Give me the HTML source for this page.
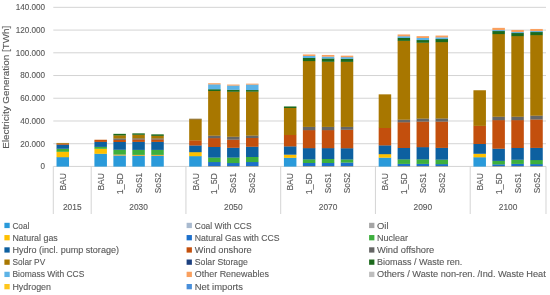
<!DOCTYPE html>
<html lang="en"><head><meta charset="utf-8"><title>Electricity Generation</title>
<style>html,body{margin:0;padding:0;background:#fff}body{width:550px;height:295px;overflow:hidden}svg{display:block}text{font-family:"Liberation Sans",sans-serif;fill:#595959;stroke:#595959;stroke-width:0.12px}</style></head><body>
<svg width="550" height="295" viewBox="0 0 550 295">
<defs><filter id="soft" x="0" y="0" width="550" height="295" filterUnits="userSpaceOnUse"><feGaussianBlur stdDeviation="0.35"/></filter></defs>
<rect width="550" height="295" fill="#fff"/>
<g filter="url(#soft)">
<line x1="53.30" y1="166.45" x2="546.00" y2="166.45" stroke="#D2D2D2" stroke-width="0.95"/>
<text x="45.1" y="169.25" font-size="8.7" text-anchor="end" textLength="4.5" lengthAdjust="spacingAndGlyphs">0</text>
<line x1="53.30" y1="143.72" x2="546.00" y2="143.72" stroke="#D2D2D2" stroke-width="0.95"/>
<text x="45.1" y="146.52" font-size="8.7" text-anchor="end" textLength="24.9" lengthAdjust="spacingAndGlyphs">20.000</text>
<line x1="53.30" y1="120.99" x2="546.00" y2="120.99" stroke="#D2D2D2" stroke-width="0.95"/>
<text x="45.1" y="123.79" font-size="8.7" text-anchor="end" textLength="24.9" lengthAdjust="spacingAndGlyphs">40.000</text>
<line x1="53.30" y1="98.26" x2="546.00" y2="98.26" stroke="#D2D2D2" stroke-width="0.95"/>
<text x="45.1" y="101.06" font-size="8.7" text-anchor="end" textLength="24.9" lengthAdjust="spacingAndGlyphs">60.000</text>
<line x1="53.30" y1="75.53" x2="546.00" y2="75.53" stroke="#D2D2D2" stroke-width="0.95"/>
<text x="45.1" y="78.33" font-size="8.7" text-anchor="end" textLength="24.9" lengthAdjust="spacingAndGlyphs">80.000</text>
<line x1="53.30" y1="52.80" x2="546.00" y2="52.80" stroke="#D2D2D2" stroke-width="0.95"/>
<text x="45.1" y="55.60" font-size="8.7" text-anchor="end" textLength="29.4" lengthAdjust="spacingAndGlyphs">100.000</text>
<line x1="53.30" y1="30.07" x2="546.00" y2="30.07" stroke="#D2D2D2" stroke-width="0.95"/>
<text x="45.1" y="32.87" font-size="8.7" text-anchor="end" textLength="29.4" lengthAdjust="spacingAndGlyphs">120.000</text>
<line x1="53.30" y1="7.34" x2="546.00" y2="7.34" stroke="#D2D2D2" stroke-width="0.95"/>
<text x="45.1" y="10.14" font-size="8.7" text-anchor="end" textLength="29.4" lengthAdjust="spacingAndGlyphs">140.000</text>
<text transform="translate(9.0,87.2) rotate(-90)" font-size="9.3" text-anchor="middle" textLength="123" lengthAdjust="spacingAndGlyphs">Electricity Generation [TWh]</text>
<rect x="56.52" y="157.05" width="12.50" height="9.55" fill="#2A9ADA"/>
<rect x="56.52" y="151.65" width="12.50" height="5.55" fill="#FFC000"/>
<rect x="56.52" y="148.65" width="12.50" height="3.15" fill="#3DAF3D"/>
<rect x="56.52" y="144.55" width="12.50" height="4.25" fill="#1160A0"/>
<rect x="56.52" y="143.55" width="12.50" height="1.15" fill="#C34F0A"/>
<rect x="56.52" y="142.95" width="12.50" height="0.75" fill="#A87700"/>
<rect x="94.42" y="153.65" width="12.50" height="12.95" fill="#2A9ADA"/>
<rect x="94.42" y="148.65" width="12.50" height="5.15" fill="#FFC000"/>
<rect x="94.42" y="146.75" width="12.50" height="2.05" fill="#3DAF3D"/>
<rect x="94.42" y="141.75" width="12.50" height="5.15" fill="#1160A0"/>
<rect x="94.42" y="139.75" width="12.50" height="2.15" fill="#C34F0A"/>
<rect x="113.38" y="155.45" width="12.50" height="11.15" fill="#2A9ADA"/>
<rect x="113.38" y="154.45" width="12.50" height="1.15" fill="#E8A838"/>
<rect x="113.38" y="149.65" width="12.50" height="4.95" fill="#3DAF3D"/>
<rect x="113.38" y="141.85" width="12.50" height="7.95" fill="#1160A0"/>
<rect x="113.38" y="139.75" width="12.50" height="2.25" fill="#C34F0A"/>
<rect x="113.38" y="138.35" width="12.50" height="1.55" fill="#666666"/>
<rect x="113.38" y="135.25" width="12.50" height="3.25" fill="#A87700"/>
<rect x="113.38" y="133.85" width="12.50" height="1.55" fill="#1E6B1E"/>
<rect x="132.32" y="155.75" width="12.50" height="10.85" fill="#2A9ADA"/>
<rect x="132.32" y="154.75" width="12.50" height="1.15" fill="#E8A838"/>
<rect x="132.32" y="149.75" width="12.50" height="5.15" fill="#3DAF3D"/>
<rect x="132.32" y="141.75" width="12.50" height="8.15" fill="#1160A0"/>
<rect x="132.32" y="139.35" width="12.50" height="2.55" fill="#C34F0A"/>
<rect x="132.32" y="138.25" width="12.50" height="1.25" fill="#666666"/>
<rect x="132.32" y="134.65" width="12.50" height="3.75" fill="#A87700"/>
<rect x="132.32" y="133.35" width="12.50" height="1.45" fill="#1E6B1E"/>
<rect x="151.27" y="155.75" width="12.50" height="10.85" fill="#2A9ADA"/>
<rect x="151.27" y="154.75" width="12.50" height="1.15" fill="#E8A838"/>
<rect x="151.27" y="149.75" width="12.50" height="5.15" fill="#3DAF3D"/>
<rect x="151.27" y="141.75" width="12.50" height="8.15" fill="#1160A0"/>
<rect x="151.27" y="139.35" width="12.50" height="2.55" fill="#C34F0A"/>
<rect x="151.27" y="138.35" width="12.50" height="1.15" fill="#666666"/>
<rect x="151.27" y="135.75" width="12.50" height="2.75" fill="#A87700"/>
<rect x="151.27" y="134.35" width="12.50" height="1.55" fill="#1E6B1E"/>
<rect x="189.18" y="156.05" width="12.50" height="10.55" fill="#2A9ADA"/>
<rect x="189.18" y="152.05" width="12.50" height="4.15" fill="#FFC000"/>
<rect x="189.18" y="145.35" width="12.50" height="6.85" fill="#1160A0"/>
<rect x="189.18" y="140.25" width="12.50" height="5.25" fill="#C34F0A"/>
<rect x="189.18" y="119.25" width="12.50" height="21.15" fill="#A87700"/>
<rect x="189.18" y="118.75" width="12.50" height="0.65" fill="#6B4E12"/>
<rect x="208.12" y="166.15" width="12.50" height="0.45" fill="#E8A838"/>
<rect x="208.12" y="161.95" width="12.50" height="4.35" fill="#1F6FCB"/>
<rect x="208.12" y="157.45" width="12.50" height="4.65" fill="#3DAF3D"/>
<rect x="208.12" y="146.85" width="12.50" height="10.75" fill="#1160A0"/>
<rect x="208.12" y="138.05" width="12.50" height="8.95" fill="#C34F0A"/>
<rect x="208.12" y="135.55" width="12.50" height="2.65" fill="#666666"/>
<rect x="208.12" y="90.85" width="12.50" height="44.85" fill="#A87700"/>
<rect x="208.12" y="89.15" width="12.50" height="1.85" fill="#1E6B1E"/>
<rect x="208.12" y="84.25" width="12.50" height="5.05" fill="#5DB3E6"/>
<rect x="208.12" y="83.25" width="12.50" height="1.15" fill="#F9A05E"/>
<rect x="227.07" y="166.15" width="12.50" height="0.45" fill="#E8A838"/>
<rect x="227.07" y="162.95" width="12.50" height="3.35" fill="#1F6FCB"/>
<rect x="227.07" y="157.45" width="12.50" height="5.65" fill="#3DAF3D"/>
<rect x="227.07" y="147.65" width="12.50" height="9.95" fill="#1160A0"/>
<rect x="227.07" y="139.55" width="12.50" height="8.25" fill="#C34F0A"/>
<rect x="227.07" y="136.65" width="12.50" height="3.05" fill="#666666"/>
<rect x="227.07" y="91.65" width="12.50" height="45.15" fill="#A87700"/>
<rect x="227.07" y="89.65" width="12.50" height="2.15" fill="#1E6B1E"/>
<rect x="227.07" y="85.45" width="12.50" height="4.35" fill="#5DB3E6"/>
<rect x="227.07" y="84.55" width="12.50" height="1.05" fill="#F9A05E"/>
<rect x="246.02" y="166.15" width="12.50" height="0.45" fill="#E8A838"/>
<rect x="246.02" y="161.95" width="12.50" height="4.35" fill="#1F6FCB"/>
<rect x="246.02" y="156.85" width="12.50" height="5.25" fill="#3DAF3D"/>
<rect x="246.02" y="146.65" width="12.50" height="10.35" fill="#1160A0"/>
<rect x="246.02" y="137.85" width="12.50" height="8.95" fill="#C34F0A"/>
<rect x="246.02" y="135.45" width="12.50" height="2.55" fill="#666666"/>
<rect x="246.02" y="91.55" width="12.50" height="44.05" fill="#A87700"/>
<rect x="246.02" y="89.95" width="12.50" height="1.75" fill="#1E6B1E"/>
<rect x="246.02" y="84.45" width="12.50" height="5.65" fill="#5DB3E6"/>
<rect x="246.02" y="83.65" width="12.50" height="0.95" fill="#F9A05E"/>
<rect x="283.93" y="157.65" width="12.50" height="8.95" fill="#2A9ADA"/>
<rect x="283.93" y="154.55" width="12.50" height="3.25" fill="#FFC000"/>
<rect x="283.93" y="146.25" width="12.50" height="8.45" fill="#1160A0"/>
<rect x="283.93" y="134.85" width="12.50" height="11.55" fill="#C34F0A"/>
<rect x="283.93" y="107.85" width="12.50" height="27.15" fill="#A87700"/>
<rect x="283.93" y="106.45" width="12.50" height="1.55" fill="#1E6B1E"/>
<rect x="302.88" y="166.15" width="12.50" height="0.45" fill="#E8A838"/>
<rect x="302.88" y="162.85" width="12.50" height="3.45" fill="#1F6FCB"/>
<rect x="302.88" y="159.25" width="12.50" height="3.75" fill="#3DAF3D"/>
<rect x="302.88" y="148.05" width="12.50" height="11.35" fill="#1160A0"/>
<rect x="302.88" y="130.05" width="12.50" height="18.15" fill="#C34F0A"/>
<rect x="302.88" y="126.75" width="12.50" height="3.45" fill="#666666"/>
<rect x="302.88" y="60.95" width="12.50" height="65.95" fill="#A87700"/>
<rect x="302.88" y="57.85" width="12.50" height="3.25" fill="#1E6B1E"/>
<rect x="302.88" y="55.85" width="12.50" height="2.15" fill="#5DB3E6"/>
<rect x="302.88" y="54.45" width="12.50" height="1.55" fill="#F9A05E"/>
<rect x="321.82" y="166.15" width="12.50" height="0.45" fill="#E8A838"/>
<rect x="321.82" y="162.85" width="12.50" height="3.45" fill="#1F6FCB"/>
<rect x="321.82" y="158.85" width="12.50" height="4.15" fill="#3DAF3D"/>
<rect x="321.82" y="148.05" width="12.50" height="10.95" fill="#1160A0"/>
<rect x="321.82" y="130.05" width="12.50" height="18.15" fill="#C34F0A"/>
<rect x="321.82" y="126.75" width="12.50" height="3.45" fill="#666666"/>
<rect x="321.82" y="61.65" width="12.50" height="65.25" fill="#A87700"/>
<rect x="321.82" y="58.35" width="12.50" height="3.45" fill="#1E6B1E"/>
<rect x="321.82" y="56.55" width="12.50" height="1.95" fill="#5DB3E6"/>
<rect x="321.82" y="54.95" width="12.50" height="1.75" fill="#F9A05E"/>
<rect x="340.77" y="166.15" width="12.50" height="0.45" fill="#E8A838"/>
<rect x="340.77" y="162.45" width="12.50" height="3.85" fill="#1F6FCB"/>
<rect x="340.77" y="159.35" width="12.50" height="3.25" fill="#3DAF3D"/>
<rect x="340.77" y="148.15" width="12.50" height="11.35" fill="#1160A0"/>
<rect x="340.77" y="129.65" width="12.50" height="18.65" fill="#C34F0A"/>
<rect x="340.77" y="126.75" width="12.50" height="3.05" fill="#666666"/>
<rect x="340.77" y="61.75" width="12.50" height="65.15" fill="#A87700"/>
<rect x="340.77" y="58.75" width="12.50" height="3.15" fill="#1E6B1E"/>
<rect x="340.77" y="57.05" width="12.50" height="1.85" fill="#5DB3E6"/>
<rect x="340.77" y="55.65" width="12.50" height="1.55" fill="#F9A05E"/>
<rect x="378.68" y="157.55" width="12.50" height="9.05" fill="#2A9ADA"/>
<rect x="378.68" y="154.05" width="12.50" height="3.65" fill="#FFC000"/>
<rect x="378.68" y="145.25" width="12.50" height="8.95" fill="#1160A0"/>
<rect x="378.68" y="127.85" width="12.50" height="17.55" fill="#C34F0A"/>
<rect x="378.68" y="94.35" width="12.50" height="33.65" fill="#A87700"/>
<rect x="397.62" y="166.15" width="12.50" height="0.45" fill="#E8A838"/>
<rect x="397.62" y="163.75" width="12.50" height="2.55" fill="#1F6FCB"/>
<rect x="397.62" y="159.25" width="12.50" height="4.65" fill="#3DAF3D"/>
<rect x="397.62" y="147.85" width="12.50" height="11.55" fill="#1160A0"/>
<rect x="397.62" y="122.15" width="12.50" height="25.85" fill="#C34F0A"/>
<rect x="397.62" y="119.55" width="12.50" height="2.75" fill="#666666"/>
<rect x="397.62" y="40.75" width="12.50" height="78.95" fill="#A87700"/>
<rect x="397.62" y="37.85" width="12.50" height="3.05" fill="#1E6B1E"/>
<rect x="397.62" y="36.15" width="12.50" height="1.85" fill="#5DB3E6"/>
<rect x="397.62" y="34.45" width="12.50" height="1.85" fill="#F9A05E"/>
<rect x="416.57" y="166.15" width="12.50" height="0.45" fill="#E8A838"/>
<rect x="416.57" y="163.75" width="12.50" height="2.55" fill="#1F6FCB"/>
<rect x="416.57" y="159.25" width="12.50" height="4.65" fill="#3DAF3D"/>
<rect x="416.57" y="147.05" width="12.50" height="12.35" fill="#1160A0"/>
<rect x="416.57" y="121.45" width="12.50" height="25.75" fill="#C34F0A"/>
<rect x="416.57" y="118.45" width="12.50" height="3.15" fill="#666666"/>
<rect x="416.57" y="42.65" width="12.50" height="75.95" fill="#A87700"/>
<rect x="416.57" y="39.95" width="12.50" height="2.85" fill="#1E6B1E"/>
<rect x="416.57" y="37.85" width="12.50" height="2.25" fill="#5DB3E6"/>
<rect x="416.57" y="36.15" width="12.50" height="1.85" fill="#F9A05E"/>
<rect x="435.52" y="166.15" width="12.50" height="0.45" fill="#E8A838"/>
<rect x="435.52" y="164.05" width="12.50" height="2.25" fill="#1F6FCB"/>
<rect x="435.52" y="159.55" width="12.50" height="4.65" fill="#3DAF3D"/>
<rect x="435.52" y="147.75" width="12.50" height="11.95" fill="#1160A0"/>
<rect x="435.52" y="121.45" width="12.50" height="26.45" fill="#C34F0A"/>
<rect x="435.52" y="118.35" width="12.50" height="3.25" fill="#666666"/>
<rect x="435.52" y="42.05" width="12.50" height="76.45" fill="#A87700"/>
<rect x="435.52" y="38.95" width="12.50" height="3.25" fill="#1E6B1E"/>
<rect x="435.52" y="37.25" width="12.50" height="1.85" fill="#5DB3E6"/>
<rect x="435.52" y="35.55" width="12.50" height="1.85" fill="#F9A05E"/>
<rect x="473.43" y="157.15" width="12.50" height="9.45" fill="#2A9ADA"/>
<rect x="473.43" y="153.65" width="12.50" height="3.65" fill="#FFC000"/>
<rect x="473.43" y="143.85" width="12.50" height="9.95" fill="#1160A0"/>
<rect x="473.43" y="125.75" width="12.50" height="18.25" fill="#C34F0A"/>
<rect x="473.43" y="90.25" width="12.50" height="35.65" fill="#A87700"/>
<rect x="492.38" y="166.15" width="12.50" height="0.45" fill="#E8A838"/>
<rect x="492.38" y="164.25" width="12.50" height="2.05" fill="#1F6FCB"/>
<rect x="492.38" y="160.75" width="12.50" height="3.65" fill="#3DAF3D"/>
<rect x="492.38" y="148.55" width="12.50" height="12.35" fill="#1160A0"/>
<rect x="492.38" y="120.05" width="12.50" height="28.65" fill="#C34F0A"/>
<rect x="492.38" y="116.65" width="12.50" height="3.55" fill="#666666"/>
<rect x="492.38" y="33.95" width="12.50" height="82.85" fill="#A87700"/>
<rect x="492.38" y="30.95" width="12.50" height="3.15" fill="#1E6B1E"/>
<rect x="492.38" y="29.95" width="12.50" height="1.15" fill="#5DB3E6"/>
<rect x="492.38" y="27.85" width="12.50" height="2.25" fill="#F9A05E"/>
<rect x="511.32" y="166.15" width="12.50" height="0.45" fill="#E8A838"/>
<rect x="511.32" y="163.75" width="12.50" height="2.55" fill="#1F6FCB"/>
<rect x="511.32" y="159.65" width="12.50" height="4.25" fill="#3DAF3D"/>
<rect x="511.32" y="147.85" width="12.50" height="11.95" fill="#1160A0"/>
<rect x="511.32" y="120.05" width="12.50" height="27.95" fill="#C34F0A"/>
<rect x="511.32" y="116.65" width="12.50" height="3.55" fill="#666666"/>
<rect x="511.32" y="36.05" width="12.50" height="80.75" fill="#A87700"/>
<rect x="511.32" y="32.95" width="12.50" height="3.25" fill="#1E6B1E"/>
<rect x="511.32" y="31.95" width="12.50" height="1.15" fill="#5DB3E6"/>
<rect x="511.32" y="29.95" width="12.50" height="2.15" fill="#F9A05E"/>
<rect x="530.27" y="166.15" width="12.50" height="0.45" fill="#E8A838"/>
<rect x="530.27" y="164.05" width="12.50" height="2.25" fill="#1F6FCB"/>
<rect x="530.27" y="159.95" width="12.50" height="4.25" fill="#3DAF3D"/>
<rect x="530.27" y="147.75" width="12.50" height="12.35" fill="#1160A0"/>
<rect x="530.27" y="119.35" width="12.50" height="28.55" fill="#C34F0A"/>
<rect x="530.27" y="115.55" width="12.50" height="3.95" fill="#666666"/>
<rect x="530.27" y="35.05" width="12.50" height="80.65" fill="#A87700"/>
<rect x="530.27" y="31.95" width="12.50" height="3.25" fill="#1E6B1E"/>
<rect x="530.27" y="30.95" width="12.50" height="1.15" fill="#5DB3E6"/>
<rect x="530.27" y="28.95" width="12.50" height="2.15" fill="#F9A05E"/>
<line x1="53.30" y1="166.45" x2="53.30" y2="214" stroke="#D2D2D2" stroke-width="0.95"/>
<text x="72.25" y="210.4" font-size="8.4" text-anchor="middle" textLength="18.6" lengthAdjust="spacingAndGlyphs">2015</text>
<line x1="91.20" y1="166.45" x2="91.20" y2="214" stroke="#D2D2D2" stroke-width="0.95"/>
<text x="138.57" y="210.4" font-size="8.4" text-anchor="middle" textLength="18.6" lengthAdjust="spacingAndGlyphs">2030</text>
<line x1="185.95" y1="166.45" x2="185.95" y2="214" stroke="#D2D2D2" stroke-width="0.95"/>
<text x="233.32" y="210.4" font-size="8.4" text-anchor="middle" textLength="18.6" lengthAdjust="spacingAndGlyphs">2050</text>
<line x1="280.70" y1="166.45" x2="280.70" y2="214" stroke="#D2D2D2" stroke-width="0.95"/>
<text x="328.07" y="210.4" font-size="8.4" text-anchor="middle" textLength="18.6" lengthAdjust="spacingAndGlyphs">2070</text>
<line x1="375.45" y1="166.45" x2="375.45" y2="214" stroke="#D2D2D2" stroke-width="0.95"/>
<text x="422.82" y="210.4" font-size="8.4" text-anchor="middle" textLength="18.6" lengthAdjust="spacingAndGlyphs">2090</text>
<line x1="470.20" y1="166.45" x2="470.20" y2="214" stroke="#D2D2D2" stroke-width="0.95"/>
<text x="508.10" y="210.4" font-size="8.4" text-anchor="middle" textLength="18.6" lengthAdjust="spacingAndGlyphs">2100</text>
<line x1="546.00" y1="166.45" x2="546.00" y2="214" stroke="#D2D2D2" stroke-width="0.95"/>
<text transform="translate(65.88,173.0) rotate(-90)" font-size="8.6" text-anchor="end" textLength="17.6" lengthAdjust="spacingAndGlyphs">BAU</text>
<text transform="translate(103.77,173.0) rotate(-90)" font-size="8.6" text-anchor="end" textLength="17.6" lengthAdjust="spacingAndGlyphs">BAU</text>
<text transform="translate(122.72,173.0) rotate(-90)" font-size="8.6" text-anchor="end" textLength="21.2" lengthAdjust="spacingAndGlyphs">1_5D</text>
<text transform="translate(141.67,173.0) rotate(-90)" font-size="8.6" text-anchor="end" textLength="20.2" lengthAdjust="spacingAndGlyphs">SoS1</text>
<text transform="translate(160.62,173.0) rotate(-90)" font-size="8.6" text-anchor="end" textLength="20.2" lengthAdjust="spacingAndGlyphs">SoS2</text>
<text transform="translate(198.53,173.0) rotate(-90)" font-size="8.6" text-anchor="end" textLength="17.6" lengthAdjust="spacingAndGlyphs">BAU</text>
<text transform="translate(217.47,173.0) rotate(-90)" font-size="8.6" text-anchor="end" textLength="21.2" lengthAdjust="spacingAndGlyphs">1_5D</text>
<text transform="translate(236.42,173.0) rotate(-90)" font-size="8.6" text-anchor="end" textLength="20.2" lengthAdjust="spacingAndGlyphs">SoS1</text>
<text transform="translate(255.37,173.0) rotate(-90)" font-size="8.6" text-anchor="end" textLength="20.2" lengthAdjust="spacingAndGlyphs">SoS2</text>
<text transform="translate(293.28,173.0) rotate(-90)" font-size="8.6" text-anchor="end" textLength="17.6" lengthAdjust="spacingAndGlyphs">BAU</text>
<text transform="translate(312.23,173.0) rotate(-90)" font-size="8.6" text-anchor="end" textLength="21.2" lengthAdjust="spacingAndGlyphs">1_5D</text>
<text transform="translate(331.18,173.0) rotate(-90)" font-size="8.6" text-anchor="end" textLength="20.2" lengthAdjust="spacingAndGlyphs">SoS1</text>
<text transform="translate(350.12,173.0) rotate(-90)" font-size="8.6" text-anchor="end" textLength="20.2" lengthAdjust="spacingAndGlyphs">SoS2</text>
<text transform="translate(388.03,173.0) rotate(-90)" font-size="8.6" text-anchor="end" textLength="17.6" lengthAdjust="spacingAndGlyphs">BAU</text>
<text transform="translate(406.98,173.0) rotate(-90)" font-size="8.6" text-anchor="end" textLength="21.2" lengthAdjust="spacingAndGlyphs">1_5D</text>
<text transform="translate(425.93,173.0) rotate(-90)" font-size="8.6" text-anchor="end" textLength="20.2" lengthAdjust="spacingAndGlyphs">SoS1</text>
<text transform="translate(444.88,173.0) rotate(-90)" font-size="8.6" text-anchor="end" textLength="20.2" lengthAdjust="spacingAndGlyphs">SoS2</text>
<text transform="translate(482.78,173.0) rotate(-90)" font-size="8.6" text-anchor="end" textLength="17.6" lengthAdjust="spacingAndGlyphs">BAU</text>
<text transform="translate(501.73,173.0) rotate(-90)" font-size="8.6" text-anchor="end" textLength="21.2" lengthAdjust="spacingAndGlyphs">1_5D</text>
<text transform="translate(520.67,173.0) rotate(-90)" font-size="8.6" text-anchor="end" textLength="20.2" lengthAdjust="spacingAndGlyphs">SoS1</text>
<text transform="translate(539.62,173.0) rotate(-90)" font-size="8.6" text-anchor="end" textLength="20.2" lengthAdjust="spacingAndGlyphs">SoS2</text>
<rect x="4.40" y="222.80" width="5.3" height="5.3" fill="#2A9ADA"/>
<text x="12.40" y="228.50" font-size="9" textLength="16.9" lengthAdjust="spacingAndGlyphs">Coal</text>
<rect x="4.40" y="235.05" width="5.3" height="5.3" fill="#FFC000"/>
<text x="12.40" y="240.75" font-size="9" textLength="45.4" lengthAdjust="spacingAndGlyphs">Natural gas</text>
<rect x="4.40" y="247.30" width="5.3" height="5.3" fill="#1160A0"/>
<text x="12.40" y="253.00" font-size="9" textLength="106.6" lengthAdjust="spacingAndGlyphs">Hydro (incl. pump storage)</text>
<rect x="4.40" y="259.50" width="5.3" height="5.3" fill="#A87700"/>
<text x="12.40" y="265.20" font-size="9" textLength="32.8" lengthAdjust="spacingAndGlyphs">Solar PV</text>
<rect x="4.40" y="271.75" width="5.3" height="5.3" fill="#5DB3E6"/>
<text x="12.40" y="277.45" font-size="9" textLength="72.0" lengthAdjust="spacingAndGlyphs">Biomass With CCS</text>
<rect x="4.40" y="284.00" width="5.3" height="5.3" fill="#FFC61A"/>
<text x="12.40" y="289.70" font-size="9" textLength="38.6" lengthAdjust="spacingAndGlyphs">Hydrogen</text>
<rect x="186.60" y="222.80" width="5.3" height="5.3" fill="#A9BACF"/>
<text x="194.80" y="228.50" font-size="9" textLength="56.8" lengthAdjust="spacingAndGlyphs">Coal With CCS</text>
<rect x="186.60" y="235.05" width="5.3" height="5.3" fill="#1F6FCB"/>
<text x="194.80" y="240.75" font-size="9" textLength="84.7" lengthAdjust="spacingAndGlyphs">Natural Gas with CCS</text>
<rect x="186.60" y="247.30" width="5.3" height="5.3" fill="#C34F0A"/>
<text x="194.80" y="253.00" font-size="9" textLength="56.8" lengthAdjust="spacingAndGlyphs">Wind onshore</text>
<rect x="186.60" y="259.50" width="5.3" height="5.3" fill="#1F3F7F"/>
<text x="194.80" y="265.20" font-size="9" textLength="53.0" lengthAdjust="spacingAndGlyphs">Solar Storage</text>
<rect x="186.60" y="271.75" width="5.3" height="5.3" fill="#F9A05E"/>
<text x="194.80" y="277.45" font-size="9" textLength="74.1" lengthAdjust="spacingAndGlyphs">Other Renewables</text>
<rect x="186.60" y="284.00" width="5.3" height="5.3" fill="#4A8FDA"/>
<text x="194.80" y="289.70" font-size="9" textLength="48.1" lengthAdjust="spacingAndGlyphs">Net imports</text>
<rect x="369.10" y="222.80" width="5.3" height="5.3" fill="#A5A5A5"/>
<text x="377.00" y="228.50" font-size="9" textLength="11.5" lengthAdjust="spacingAndGlyphs">Oil</text>
<rect x="369.10" y="235.05" width="5.3" height="5.3" fill="#3DAF3D"/>
<text x="377.00" y="240.75" font-size="9" textLength="31.0" lengthAdjust="spacingAndGlyphs">Nuclear</text>
<rect x="369.10" y="247.30" width="5.3" height="5.3" fill="#666666"/>
<text x="377.00" y="253.00" font-size="9" textLength="57.3" lengthAdjust="spacingAndGlyphs">Wind offshore</text>
<rect x="369.10" y="259.50" width="5.3" height="5.3" fill="#1E6B1E"/>
<text x="377.00" y="265.20" font-size="9" textLength="85.2" lengthAdjust="spacingAndGlyphs">Biomass / Waste ren.</text>
<rect x="369.10" y="271.75" width="5.3" height="5.3" fill="#BDBDBD"/>
<text x="377.00" y="277.45" font-size="9" textLength="168.8" lengthAdjust="spacingAndGlyphs">Others / Waste non-ren. /Ind. Waste Heat</text>
</g></svg></body></html>
